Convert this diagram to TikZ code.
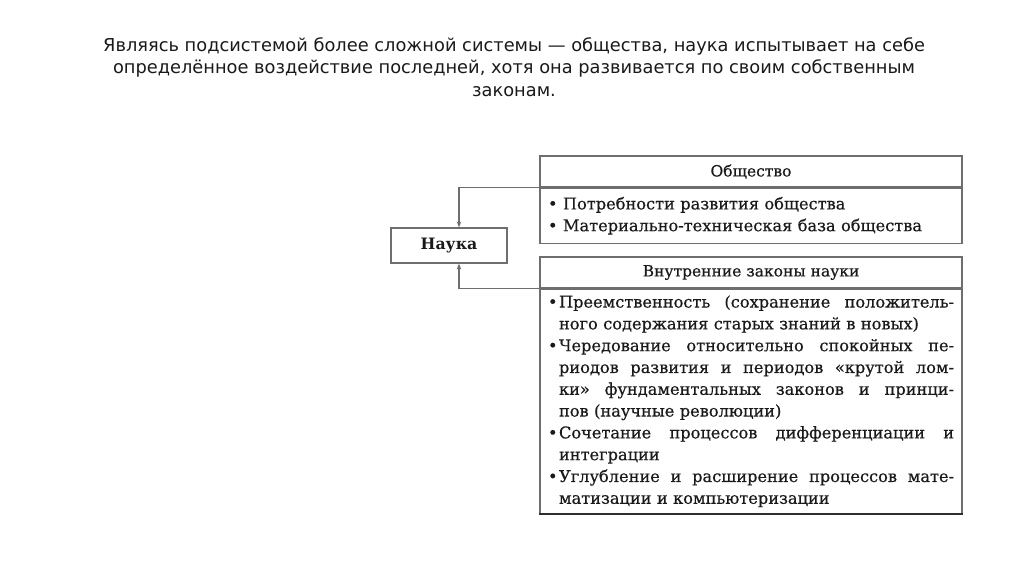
\documentclass[tikz,border=0pt]{standalone}
\usepackage{fontspec}
\setmainfont{DejaVu Serif}
\newfontfamily\titlefont{DejaVu Sans}
\newfontfamily\bookfont{DejaVu Serif}[FakeBold=0.5]
\usetikzlibrary{positioning,arrows.meta}
\definecolor{inkgray}{HTML}{1A1A1A}
\definecolor{linegray}{HTML}{6E6E6E}
\definecolor{edgegray}{HTML}{2E2E2E}
\newlength{\linew}
\setlength{\linew}{406pt}
\newcommand{\jline}[1]{\makebox[\linew][s]{\spaceskip=0.25em plus 1fil\relax #1}}
\newcommand{\lline}[1]{\makebox[\linew][l]{#1}}
\newcommand{\bul}{\makebox[11pt][l]{•}}
\newcommand{\ind}{\hspace*{11pt}}

\begin{document}
\begin{tikzpicture}[x=1pt,y=-1pt,
    box/.style={draw=linegray, line width=1.2pt, minimum width=422pt, inner xsep=8pt, inner ysep=0pt, text=inkgray},
    head/.style={box, minimum height=31pt, font=\bookfont\fontsize{15.5}{17}\selectfont},
    body/.style={box, text width=406pt, align=left, font=\bookfont\fontsize{16.2}{21.8}\selectfont},
    arr/.style={draw=linegray, line width=1.1pt, -{Stealth[length=6pt,width=4.5pt]}}]
    \useasboundingbox (0,0) rectangle (1024,576);
    \fill[white] (0,0) rectangle (1024,576);

    % title
    \node[align=center, text=inkgray, font=\titlefont\fontsize{17.8}{22.5}\selectfont] (title) at (514,67)
        {Являясь подсистемой более сложной системы — общества, наука испытывает на себе\\
         определённое воздействие последней, хотя она развивается по своим собственным\\
         законам.};

    % science
    \node[draw=linegray, line width=1.2pt, minimum width=116pt, minimum height=35pt, text=inkgray,
          font=\fontsize{15.7}{17}\selectfont\bfseries] (nauka) at (449,245.5) {Наука};

    % society
    \node[head] (socHead) at (751,171.5) {Общество};
    \node[body, minimum height=55pt, below=0pt of socHead] (socBody)
        {\raisebox{-2pt}{• Потребности развития общества}\\
         \raisebox{-2pt}{• Материально-техническая база общества}};

    % inner laws
    \node[head] (lawHead) at (751,272.5) {Внутренние законы науки};
    \node[body, minimum height=224pt, below=0pt of lawHead] (lawBody)
        {\jline{\bul Преемственность (сохранение положитель-}\\
         \lline{\ind ного содержания старых знаний в новых)}\\
         \jline{\bul Чередование относительно спокойных пе-}\\
         \jline{\ind риодов развития и периодов «крутой лом-}\\
         \jline{\ind ки» фундаментальных законов и принци-}\\
         \lline{\ind пов (научные революции)}\\
         \jline{\bul Сочетание процессов дифференциации и}\\
         \lline{\ind интеграции}\\
         \jline{\bul Углубление и расширение процессов мате-}\\
         \lline{\ind матизации и компьютеризации}};
    \draw[edgegray, line width=2pt] (lawBody.south west) -- (lawBody.south east);

    % influences
    \draw[arr] (socHead.south west) -| ([xshift=10pt]nauka.north);
    \draw[arr] (lawHead.south west) -| ([xshift=10pt]nauka.south);
\end{tikzpicture}
\end{document}
